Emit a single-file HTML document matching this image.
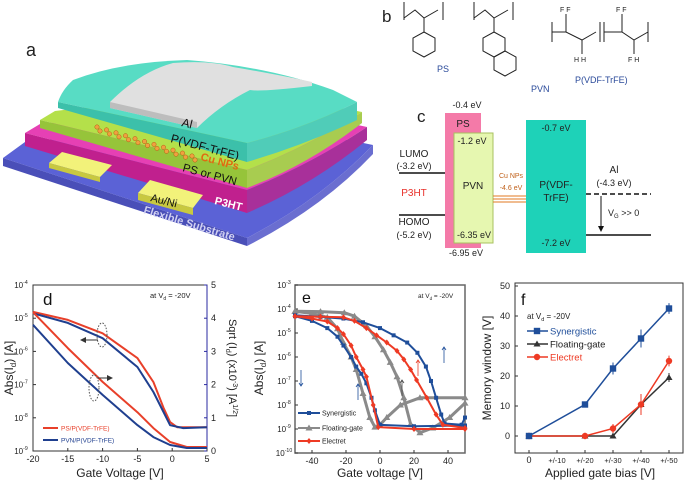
<!DOCTYPE html>
<html><head><meta charset="utf-8">
<style>
html,body{margin:0;padding:0;background:#fff;}
svg{display:block;font-family:"Liberation Sans",sans-serif;}
</style></head>
<body>
<svg id="fig" width="685" height="483" viewBox="0 0 685 483" xmlns="http://www.w3.org/2000/svg">
<!-- Panel a: device schematic -->
<g>
  <text x="26" y="56" font-size="18" fill="#222">a</text>
  <!-- substrate -->
  <path d="M3,158 L25,142 Q250,118 373,145 Q320,200 247,238 Z" fill="#5b62d6"/>
  <path d="M3,158 L247,238 L247,246 L3,166 Z" fill="#4a4fb8"/>
  <path d="M247,238 Q320,200 373,145 L373,154 Q322,208 247,246 Z" fill="#6a6ed0"/>
  <!-- P3HT -->
  <path d="M25,133 L40,124 Q250,100 367,127 Q310,165 247,190 Z" fill="#e640b4"/>
  <path d="M25,133 L247,190 L247,213 L25,146 Z" fill="#c0208e"/>
  <path d="M247,190 Q310,165 367,127 L367,140 Q312,185 247,213 Z" fill="#a8309a"/>
  <!-- PS or PVN -->
  <path d="M40,120 L55,111 Q250,88 362,112 Q305,148 247,170 Z" fill="#b4e04a"/>
  <path d="M40,120 L247,170 L247,188 L40,128 Z" fill="#96c43a"/>
  <path d="M247,170 Q305,148 362,112 L362,123 Q308,165 247,188 Z" fill="#a8cc50"/>
  <!-- P(VDF-TrFE) -->
  <path d="M58,102 Q62,90 73,80 Q120,62 187,60 Q267,66 333,90 L357,102 Q305,128 247,143 Z" fill="#58dcc4"/>
  <path d="M58,102 L247,143 L247,162 L58,108 Z" fill="#3cc0aa"/>
  <path d="M247,143 Q305,128 357,102 L357,120 Q305,145 247,162 Z" fill="#50ccb8"/>
  <!-- Al -->
  <path d="M110,102 Q140,72 173,63 Q210,60 233,67 Q280,75 312,82 L312,86 Q260,92 250,90 Q220,105 197,128 L110,108 Z" fill="#e0e0e0"/>
  <path d="M110,102 L197,122 L197,128 L110,108 Z" fill="#bdbdbd"/>
  <!-- pads -->
  <path d="M49,163 L62,152 L112,165 L100,177 Z" fill="#f2f27a"/>
  <path d="M49,163 L100,177 L100,182 L49,168 Z" fill="#c8c840"/>
  <path d="M138,193 L150,180 L203,195 L193,208 Z" fill="#f2f27a"/>
  <path d="M138,193 L193,208 L193,215 L138,200 Z" fill="#c8c840"/>
  <g id="cudots"></g>
  <text x="181" y="126" font-size="12" fill="#111" transform="rotate(14 181 126)">Al</text>
  <text x="170" y="142" font-size="12" fill="#111" transform="rotate(15 170 142)">P(VDF-TrFE)</text>
  <text x="200" y="160" font-size="11" font-weight="bold" fill="#e06a10" transform="rotate(15 200 160)">Cu NPs</text>
  <text x="182" y="171" font-size="11.5" fill="#111" transform="rotate(15 182 171)">PS or PVN</text>
  <text x="214" y="204" font-size="11" font-weight="bold" fill="#fff" transform="rotate(14 214 204)">P3HT</text>
  <text x="150" y="201" font-size="11" fill="#111" transform="rotate(14 150 201)">Au/Ni</text>
  <text x="143" y="213" font-size="11" font-weight="bold" fill="#d0d0f2" transform="rotate(17 143 213)">Flexible Substrate</text>
</g>

<!-- Panel b: chemical structures -->
<g stroke="#222" fill="none" stroke-width="1">
  <text x="382" y="22" font-size="17" fill="#222" stroke="none">b</text>
  <path d="M404,2 L404,20 M443,2 L443,20 M404,18 L415,10 L424,18 L438,10 M424,18 L424,32"/>
  <polygon points="424,32 435,38 435,51 424,57 413,51 413,38"/>
  <text x="437" y="72" font-size="9" fill="#2a4a9a" stroke="none">PS</text>
  <path d="M474,2 L474,20 M513,2 L513,20 M474,18 L485,10 L494,18 L508,10 M494,18 L494,32"/>
  <polygon points="494,32 505,38 505,51 494,57 483,51 483,38"/>
  <polygon points="505,51 516,57 516,70 505,76 494,70 494,57"/>
  <text x="531" y="92" font-size="9" fill="#2a4a9a" stroke="none">PVN</text>
  <path d="M552,22 L552,42 M600,22 L600,42 M604,22 L604,42 M648,22 L648,42 M552,32 L566,32 L582,40 L596,32 M604,32 L622,32 L634,40 L648,32 M566,32 L566,14 M582,40 L582,54 M622,32 L622,14 M634,40 L634,54"/>
  <text x="560" y="12" font-size="7" fill="#222" stroke="none">F  F</text>
  <text x="616" y="12" font-size="7" fill="#222" stroke="none">F  F</text>
  <text x="574" y="62" font-size="7" fill="#222" stroke="none">H  H</text>
  <text x="628" y="62" font-size="7" fill="#222" stroke="none">F  H</text>
  <text x="575" y="83" font-size="9" fill="#2a4a9a" stroke="none">P(VDF-TrFE)</text>
</g>

<!-- Panel c: energy diagram -->
<g font-size="9" fill="#222">
  <text x="417" y="122" font-size="17">c</text>
  <rect x="445" y="113" width="36" height="135" fill="#f47aa8"/>
  <rect x="454" y="133" width="39" height="110" fill="#e6f7b0" stroke="#a8c060"/>
  <rect x="526" y="120" width="60" height="133" fill="#1ed2b8"/>
  <line x1="399" y1="173" x2="445" y2="173" stroke="#111" stroke-width="1.5"/>
  <line x1="399" y1="215" x2="445" y2="215" stroke="#111" stroke-width="1.5"/>
  <line x1="586" y1="194" x2="651" y2="194" stroke="#111" stroke-width="1.5" stroke-dasharray="5,3"/>
  <line x1="586" y1="235" x2="651" y2="235" stroke="#111" stroke-width="1.5"/>
  <line x1="601" y1="196" x2="601" y2="228" stroke="#111"/>
  <path d="M598,226 L601,232 L604,226 Z" fill="#111"/>
  <g stroke="#e07a20"><line x1="493" y1="196" x2="526" y2="196"/><line x1="493" y1="199" x2="526" y2="199"/><line x1="493" y1="202" x2="526" y2="202"/></g>
  <text x="467" y="108" text-anchor="middle">-0.4 eV</text>
  <text x="463" y="127" text-anchor="middle" font-size="10">PS</text>
  <text x="472" y="144" text-anchor="middle">-1.2 eV</text>
  <text x="473" y="189" text-anchor="middle" font-size="10">PVN</text>
  <text x="474" y="238" text-anchor="middle">-6.35 eV</text>
  <text x="466" y="256" text-anchor="middle">-6.95 eV</text>
  <text x="556" y="131" text-anchor="middle">-0.7 eV</text>
  <text x="556" y="188" text-anchor="middle" font-size="10">P(VDF-</text>
  <text x="556" y="201" text-anchor="middle" font-size="10">TrFE)</text>
  <text x="556" y="246" text-anchor="middle">-7.2 eV</text>
  <text x="414" y="157" text-anchor="middle" font-size="10">LUMO</text>
  <text x="414" y="169" text-anchor="middle">(-3.2 eV)</text>
  <text x="414" y="196" text-anchor="middle" font-size="10" fill="#e8302a">P3HT</text>
  <text x="414" y="225" text-anchor="middle" font-size="10">HOMO</text>
  <text x="414" y="238" text-anchor="middle">(-5.2 eV)</text>
  <text x="511" y="178" text-anchor="middle" font-size="7" fill="#c0601a">Cu NPs</text>
  <text x="511" y="190" text-anchor="middle" font-size="7" fill="#c0601a">-4.6 eV</text>
  <text x="614" y="173" text-anchor="middle" font-size="10">Al</text>
  <text x="614" y="186" text-anchor="middle">(-4.3 eV)</text>
  <text x="608" y="216" font-size="9">V<tspan font-size="6" dy="2">G</tspan><tspan dy="-2"> &gt;&gt; 0</tspan></text>
</g>

<g id="charts"></g>
</svg>

<script>
// ===== Panel d data =====
const dPsLogV = [-20, -15, -10, -5, -2.7, -1.25, -0.3, 0.7, 5];
const dPsLog = [1.55e-5, 8.9e-6, 3.5e-6, 6.3e-7, 1.2e-7, 2e-8, 7.4e-9, 5.2e-9, 5.2e-9];
const dPvnLogV = [-20, -15, -10, -5, -2.7, -1.25, -0.3, 1.6, 5];
const dPvnLog = [1.4e-5, 7.2e-6, 2.5e-6, 3.4e-7, 6e-8, 1.5e-8, 6e-9, 4.9e-9, 5.2e-9];
const dSqrtV = [-20, -15, -10, -5, -2.7, -0.3, 2.1, 5];
const dPsSqrt = [4.18, 3.1, 2.08, 1.17, 0.69, 0.27, 0.12, 0.12];
const dPvnSqrt = [3.8, 2.65, 1.69, 0.78, 0.42, 0.18, 0.09, 0.09];
const dXTicks = [-20, -15, -10, -5, 0, 5];
const dYExp = [-4, -5, -6, -7, -8, -9];
const dRTicks = [0, 1, 2, 3, 4, 5];
// ===== Panel e data =====
const eXTicks = [-40, -20, 0, 20, 40];
const eYExp = [-3, -4, -5, -6, -7, -8, -9, -10];
const eSynLeftV = [-50, -40, -31, -25, -21.5, -17, -14, -11, -8, -5, -3, 0, 20, 50];
const eSynLeftI = [5e-5, 3.2e-5, 1.6e-5, 7e-6, 3e-6, 1e-6, 4e-7, 2e-7, 8e-8, 2e-8, 6e-9, 1.5e-9, 1.3e-9, 1.4e-9];
const eSynRightV = [-50, -35, -21.5, -10, 0, 8, 16, 22, 27, 30, 33, 36, 38, 48, 50];
const eSynRightI = [5.5e-5, 4.7e-5, 4e-5, 2.8e-5, 1.6e-5, 8e-6, 4e-6, 1.5e-6, 4e-7, 1e-7, 2e-8, 4e-9, 1.7e-9, 1.5e-9, 3e-9];
const eFgLeftV = [-50, -40, -31, -25, -21.5, -17, -14, -10, -6, -3, 0, 4, 12, 23.5, 50];
const eFgLeftI = [8e-5, 6.5e-5, 4.5e-5, 1.5e-5, 4e-6, 1e-6, 3e-7, 3e-8, 3e-9, 1.2e-9, 1.5e-9, 3e-9, 1e-8, 2e-8, 2e-8];
const eFgRightV = [-50, -35, -21, -15, -8, -3, 2, 6, 10, 14, 18, 23.5, 31, 41, 50];
const eFgRightI = [8e-5, 7.8e-5, 7e-5, 5e-5, 2e-5, 7e-6, 2e-6, 6e-7, 1.5e-7, 2e-8, 1.6e-9, 7e-10, 1.1e-9, 3e-9, 1.2e-8];
const eElLeftV = [-50, -40, -31, -25, -21.5, -17, -14, -10, -8, -4, -1, 20, 50];
const eElLeftI = [5e-5, 4e-5, 3e-5, 1.6e-5, 9e-6, 3e-6, 1e-6, 3e-7, 1.5e-7, 1e-8, 1.2e-9, 1e-9, 1e-9];
const eElRightV = [-50, -35, -21.5, -15, -8, -2, 4, 10, 14, 18, 21.5, 27.5, 33, 37, 50];
const eElRightI = [5e-5, 4.8e-5, 4.5e-5, 3.2e-5, 1.6e-5, 8e-6, 4e-6, 1.8e-6, 8e-7, 3e-7, 1.1e-7, 2e-8, 4e-9, 1.5e-9, 1.1e-9];
// ===== Panel f data =====
const fCats = ["0", "+/-10", "+/-20", "+/-30", "+/-40", "+/-50"];
const fYTicks = [0, 10, 20, 30, 40, 50];
const fIdx = [0, 2, 3, 4, 5];
const fSyn = [0, 10.5, 22.5, 32.5, 42.5];
const fSynErr = [0.5, 0.8, 2, 3, 1.8];
const fFg = [0, 0, 0, 10.5, 19.5];
const fFgErr = [0.3, 0.3, 0.3, 3, 1.5];
const fEl = [0, 0, 2.5, 10.5, 25];
const fElErr = [0.3, 0.3, 1.5, 3.5, 1.8];

const NS = "http://www.w3.org/2000/svg";
const root = document.getElementById('charts');
function mk(tag, attrs, parent, txt) {
  const el = document.createElementNS(NS, tag);
  for (const k in attrs) el.setAttribute(k, attrs[k]);
  if (txt !== undefined) el.textContent = txt;
  (parent || root).appendChild(el);
  return el;
}
function pathFrom(xs, ys, fx, fy) {
  return xs.map((v, i) => (i ? 'L' : 'M') + fx(v).toFixed(1) + ',' + fy(ys[i]).toFixed(1)).join(' ');
}
function supText(parent, x, y, base, sup, anchor, size) {
  const t = mk('text', {x: x, y: y, 'font-size': size, 'text-anchor': anchor, fill: '#222'}, parent);
  
  
  mk('tspan', {}, t, base);
  mk('tspan', {dy: -4, 'font-size': size * 0.65}, t, sup);
  return t;
}

// Cu dots in panel a
const cu = document.getElementById('cudots');
for (let r = 0; r < 2; r++) for (let i = 0; i < 11; i++) {
  const c = mk('circle', {cx: 97 + i * 9.5 + r * 3, cy: 127 + i * 2.9 + r * 4, r: 2.2, fill: '#f0a040', stroke: '#b06010', 'stroke-width': 0.5}, cu);
  
  
}

function marks(g, xs, ys, fx, fy, color, shape, name) {
  xs.forEach((v, i) => {
    const x = fx(v), y = fy(ys[i]);
    let m;
    if (shape === 'sq') m = mk('rect', {x: x - 2, y: y - 2, width: 4, height: 4, fill: color}, g);
    else if (shape === 'sqf') m = mk('rect', {x: x - 3.2, y: y - 3.2, width: 6.4, height: 6.4, fill: color}, g);
    else if (shape === 'tri') m = mk('path', {d: `M${x},${y - 3.5} L${x + 3.5},${y + 2.5} L${x - 3.5},${y + 2.5} Z`, fill: color}, g);
    else if (shape === 'dia') m = mk('path', {d: `M${x},${y - 3} L${x + 2.5},${y} L${x},${y + 3} L${x - 2.5},${y} Z`, fill: color}, g);
    else m = mk('circle', {cx: x, cy: y, r: 3.2, fill: color}, g);
    
    
  });
}

// ===== Panel d =====
const gd = mk('g', {});


const dL = 33, dR = 207, dT = 285, dB = 451;
const xd = v => dL + (v + 20) / 25 * (dR - dL);
const yd = i => dT + (-4 - Math.log10(i)) / 5 * (dB - dT);
const yr = s => dB - s / 5 * (dB - dT);
const dbox = mk('rect', {x: dL, y: dT, width: dR - dL, height: dB - dT, fill: 'none', stroke: '#333', 'stroke-width': 1}, gd);


const dRaxis = mk('line', {x1: dR, y1: dT, x2: dR, y2: dB, stroke: '#2a2aa0', 'stroke-width': 1}, gd);


dXTicks.forEach(v => {
  mk('line', {x1: xd(v), y1: dB, x2: xd(v), y2: dB - 3, stroke: '#333'}, gd);
  const t = mk('text', {x: xd(v), y: dB + 11, 'font-size': 9, 'text-anchor': 'middle', fill: '#222'}, gd, v);
  
  
});
dYExp.forEach(e => {
  const y = yd(Math.pow(10, e));
  mk('line', {x1: dL, y1: y, x2: dL + 3, y2: y, stroke: '#333'}, gd);
  supText(gd, dL - 12, y + 3, '10', e, 'middle', 8);
});
dRTicks.forEach(s => {
  mk('line', {x1: dR, y1: yr(s), x2: dR - 3, y2: yr(s), stroke: '#2a2aa0'}, gd);
  const t = mk('text', {x: dR + 4, y: yr(s) + 3, 'font-size': 9, fill: '#222'}, gd, s);
  
  
});
[[dPsLogV, dPsLog, yd, '#e8402a', 'ps-log-curve'], [dPvnLogV, dPvnLog, yd, '#1f3f8f', 'pvn-log-curve'],
 [dSqrtV, dPsSqrt, yr, '#e8402a', 'ps-sqrt-curve'], [dSqrtV, dPvnSqrt, yr, '#1f3f8f', 'pvn-sqrt-curve']].forEach(s => {
  const p = mk('path', {d: pathFrom(s[0], s[1], xd, s[2]), fill: 'none', stroke: s[3], 'stroke-width': 2, 'stroke-linejoin': 'round'}, gd);
  
  
});
mk('ellipse', {cx: 102, cy: 335, rx: 5, ry: 12, fill: 'none', stroke: '#555', 'stroke-dasharray': '1.5,1.5'}, gd);
mk('line', {x1: 98, y1: 340, x2: 86, y2: 340, stroke: '#333'}, gd);
mk('path', {d: 'M86,337 L80,340 L86,343 Z', fill: '#333'}, gd);
mk('ellipse', {cx: 94, cy: 388, rx: 5, ry: 13, fill: 'none', stroke: '#555', 'stroke-dasharray': '1.5,1.5'}, gd);
mk('line', {x1: 98, y1: 378, x2: 107, y2: 378, stroke: '#333'}, gd);
mk('path', {d: 'M107,375 L113,378 L107,381 Z', fill: '#333'}, gd);
const dLabel = mk('text', {x: 43, y: 305, 'font-size': 17, fill: '#111'}, gd, 'd');


const dVd = mk('text', {x: 150, y: 298, 'font-size': 7.5, fill: '#222'}, gd);


dVd.innerHTML = 'at V<tspan font-size="5" dy="2">d</tspan><tspan dy="-2"> = -20V</tspan>';
[['PS/P(VDF-TrFE)', '#e8402a', 428], ['PVN/P(VDF-TrFE)', '#1f3f8f', 440]].forEach(l => {
  const ln = mk('line', {x1: 43, y1: l[2], x2: 58, y2: l[2], stroke: l[1], 'stroke-width': 2}, gd);
  
  
  const t = mk('text', {x: 61, y: l[2] + 2.5, 'font-size': 6.5, fill: l[1]}, gd, l[0]);
  
  
});
const dXt = mk('text', {x: 120, y: 477, 'font-size': 12, 'text-anchor': 'middle', fill: '#222'}, gd, 'Gate Voltage [V]');


const dYt = mk('text', {x: 0, y: 0, 'font-size': 12, 'text-anchor': 'middle', fill: '#222', transform: 'translate(13,368) rotate(-90)'}, gd);


dYt.innerHTML = 'Abs(I<tspan font-size="8" dy="3">d</tspan><tspan dy="-3">) [A]</tspan>';
const dRt = mk('text', {x: 0, y: 0, 'font-size': 11, 'text-anchor': 'middle', fill: '#222', transform: 'translate(229,368) rotate(90)'}, gd);


dRt.innerHTML = 'Sqrt (I<tspan font-size="7" dy="3">d</tspan><tspan dy="-3">) (x10</tspan><tspan font-size="7" dy="-4">-3</tspan><tspan dy="4">) [A</tspan><tspan font-size="7" dy="-4">1/2</tspan><tspan dy="4">]</tspan>';

// ===== Panel e =====
const ge = mk('g', {});


const eL = 295, eR = 465, eT = 285, eB = 453;
const xe = v => eL + (v + 50) / 100 * (eR - eL);
const ye = i => eT + (-3 - Math.log10(i)) / 7 * (eB - eT);
const ebox = mk('rect', {x: eL, y: eT, width: eR - eL, height: eB - eT, fill: 'none', stroke: '#666', 'stroke-width': 1.5}, ge);


eXTicks.forEach(v => {
  mk('line', {x1: xe(v), y1: eB, x2: xe(v), y2: eB - 3, stroke: '#333'}, ge);
  const t = mk('text', {x: xe(v), y: eB + 11, 'font-size': 9, 'text-anchor': 'middle', fill: '#222'}, ge, v);
  
  
});
eYExp.forEach(e => {
  const y = ye(Math.pow(10, e));
  mk('line', {x1: eL, y1: y, x2: eL + 3, y2: y, stroke: '#333'}, ge);
  supText(ge, eL - 11, y + 3, '10', e, 'middle', 8);
});
[[eFgLeftV, eFgLeftI, '#8a8a8a', 'tri', 'floating-gate'], [eFgRightV, eFgRightI, '#8a8a8a', 'tri', 'floating-gate'],
 [eSynLeftV, eSynLeftI, '#1f4e9a', 'sq', 'synergistic'], [eSynRightV, eSynRightI, '#1f4e9a', 'sq', 'synergistic'],
 [eElLeftV, eElLeftI, '#ee3a24', 'dia', 'electret'], [eElRightV, eElRightI, '#ee3a24', 'dia', 'electret']].forEach(s => {
  const p = mk('path', {d: pathFrom(s[0], s[1], xe, ye), fill: 'none', stroke: s[2], 'stroke-width': s[3] === 'tri' ? 3 : 2, 'stroke-linejoin': 'round'}, ge);
  
  
  marks(ge, s[0], s[1], xe, ye, s[2], s[3], s[4] + '-marker');
});
const eLabel = mk('text', {x: 302, y: 303, 'font-size': 16, fill: '#111'}, ge, 'e');


const eVd = mk('text', {x: 418, y: 298, 'font-size': 6.5, fill: '#222'}, ge);


eVd.innerHTML = 'at V<tspan font-size="4.5" dy="2">d</tspan><tspan dy="-2"> = -20V</tspan>';
[['Synergistic', '#1f4e9a', 'sq', 413], ['Floating-gate', '#8a8a8a', 'tri', 428], ['Electret', '#ee3a24', 'dia', 441]].forEach(l => {
  const ln = mk('line', {x1: 298, y1: l[3], x2: 320, y2: l[3], stroke: l[1], 'stroke-width': 2}, ge);
  
  
  marks(ge, [0], [0], () => 309, () => l[3], l[1], l[2], 'legend-marker-e');
  const t = mk('text', {x: 322, y: l[3] + 2.5, 'font-size': 7, fill: '#222'}, ge, l[0]);
  
  
});
const eXt = mk('text', {x: 380, y: 477, 'font-size': 12, 'text-anchor': 'middle', fill: '#222'}, ge, 'Gate voltage [V]');


const eYt = mk('text', {x: 0, y: 0, 'font-size': 12, 'text-anchor': 'middle', fill: '#222', transform: 'translate(263,368) rotate(-90)'}, ge);


eYt.innerHTML = 'Abs(I<tspan font-size="8" dy="3">d</tspan><tspan dy="-3">) [A]</tspan>';
[[358, 392, 1, '#1f4e9a'], [301, 378, -1, '#1f4e9a'], [402, 388, 1, '#444'], [418, 368, 1, '#e8402a'], [444, 355, 1, '#1f4e9a']].forEach(a => {
  const ar = mk('path', {d: `M${a[0]},${a[1] + 8 * a[2]} L${a[0]},${a[1] - 8 * a[2]} M${a[0] - 2},${a[1] - 5 * a[2]} L${a[0]},${a[1] - 8 * a[2]} L${a[0] + 2},${a[1] - 5 * a[2]}`, fill: 'none', stroke: a[3], 'stroke-width': 0.8}, ge);
  
  
});

// ===== Panel f =====
const gf = mk('g', {});


const fL = 515, fR = 683, fT = 286, fB = 453, fZero = 436;
const xf = i => 529 + i * 28;
const yf = v => fZero - v / 50 * (fZero - fT);
const fbox = mk('rect', {x: fL, y: fT - 3, width: fR - fL, height: fB - fT + 3, fill: 'none', stroke: '#333', 'stroke-width': 1}, gf);


fYTicks.forEach(v => {
  mk('line', {x1: fL, y1: yf(v), x2: fL + 3, y2: yf(v), stroke: '#333'}, gf);
  const t = mk('text', {x: fL - 5, y: yf(v) + 3, 'font-size': 9, 'text-anchor': 'end', fill: '#222'}, gf, v);
  
  
});
fCats.forEach((c, i) => {
  mk('line', {x1: xf(i), y1: fB, x2: xf(i), y2: fB - 3, stroke: '#333'}, gf);
  const t = mk('text', {x: xf(i), y: fB + 10, 'font-size': i ? 7.5 : 9, 'text-anchor': 'middle', fill: '#222'}, gf, c);
  
  
});
[[fFg, fFgErr, '#333', 'tri', 'floating-gate'], [fEl, fElErr, '#ee3a24', 'circ', 'electret'], [fSyn, fSynErr, '#1f4e9a', 'sqf', 'synergistic']].forEach(s => {
  const p = mk('path', {d: pathFrom(fIdx, s[0], xf, yf), fill: 'none', stroke: s[2], 'stroke-width': 1.5}, gf);
  
  
  fIdx.forEach((ix, k) => {
    const eb = mk('line', {x1: xf(ix), y1: yf(s[0][k] - s[1][k]), x2: xf(ix), y2: yf(s[0][k] + s[1][k]), stroke: s[2], 'stroke-width': 1}, gf);
    
    
  });
  marks(gf, fIdx, s[0], xf, yf, s[2], s[3], s[4] + '-point');
});
const fLabel = mk('text', {x: 521, y: 305, 'font-size': 16, fill: '#111'}, gf, 'f');


const fVd = mk('text', {x: 527, y: 319, 'font-size': 8, fill: '#222'}, gf);


fVd.innerHTML = 'at V<tspan font-size="5.5" dy="2">d</tspan><tspan dy="-2"> = -20V</tspan>';
[['Synergistic', '#1f4e9a', 'sqf', 331, '#1f4e9a'], ['Floating-gate', '#333', 'tri', 344, '#222'], ['Electret', '#ee3a24', 'circ', 357, '#ee3a24']].forEach(l => {
  const ln = mk('line', {x1: 527, y1: l[3], x2: 548, y2: l[3], stroke: l[1], 'stroke-width': 1.5}, gf);
  
  
  marks(gf, [0], [0], () => 537, () => l[3], l[1], l[2], 'legend-marker-f');
  const t = mk('text', {x: 550, y: l[3] + 3.5, 'font-size': 9.5, fill: l[4]}, gf, l[0]);
  
  
});
const fXt = mk('text', {x: 600, y: 477, 'font-size': 12, 'text-anchor': 'middle', fill: '#222'}, gf, 'Applied gate bias [V]');


const fYt = mk('text', {x: 0, y: 0, 'font-size': 12, 'text-anchor': 'middle', fill: '#222', transform: 'translate(491,368) rotate(-90)'}, gf, 'Memory window [V]');


</script>
</body></html>
